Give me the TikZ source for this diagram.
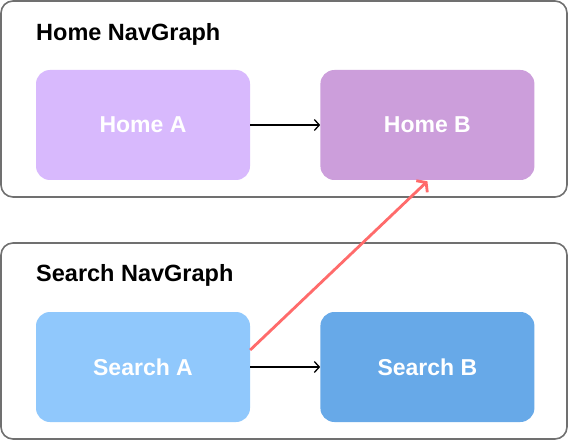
\documentclass[tikz,border=0pt]{standalone}
\usepackage{fontspec}
\setmainfont{Liberation Sans}
\usepackage{xcolor}
\usetikzlibrary{arrows.meta, positioning}
\definecolor{framegray}{RGB}{112, 112, 112}
\definecolor{homeaviolet}{RGB}{216, 185, 253}
\definecolor{homebviolet}{RGB}{204, 158, 219}
\definecolor{searchablue}{RGB}{144, 200, 252}
\definecolor{searchbblue}{RGB}{103, 169, 232}
\definecolor{jumpred}{RGB}{255, 107, 107}
\tikzstyle{graphframe} = [rectangle, draw=framegray, line width=1.6pt, rounded corners=12pt, fill=white]
\tikzstyle{screen} = [rectangle, draw=none, minimum width=214pt, minimum height=110pt, rounded corners=14pt, text=white, font=\fontsize{23}{27}\selectfont\bfseries]
\tikzstyle{title} = [anchor=west, inner sep=0pt, font=\fontsize{23.5}{28}\selectfont\bfseries]
\tikzstyle{line} = [draw, -{Straight Barb[length=5pt, width=11pt]}, line width=1.3pt, black]
\tikzstyle{jumpline} = [draw, -{Straight Barb[length=6pt, width=16pt]}, line width=2.8pt, jumpred]

\begin{document}
\begin{tikzpicture}[x=1pt, y=1pt, node distance=70pt]
    \useasboundingbox (0,0) rectangle (568,440);
    % Frames
    \draw [graphframe] (1,243) rectangle (567,439);
    \draw [graphframe] (1,1) rectangle (567,197);
    \node (hometitle) [title] at (36,406) {Home NavGraph};
    \node (searchtitle) [title] at (36,165) {Search NavGraph};

    % Nodes
    \node (homeA) [screen, fill=homeaviolet] at (143,315) {Home A};
    \node (homeB) [screen, fill=homebviolet, right=of homeA] {Home B};
    \node (searchA) [screen, fill=searchablue] at (143,73) {Search A};
    \node (searchB) [screen, fill=searchbblue, right=of searchA] {Search B};

    % Paths
    \draw [line] (homeA) -- (homeB);
    \draw [line] (searchA) -- (searchB);
    \draw [jumpline] ([yshift=17pt]searchA.east) -- ([yshift=-1pt]homeB.south);
\end{tikzpicture}
\end{document}
